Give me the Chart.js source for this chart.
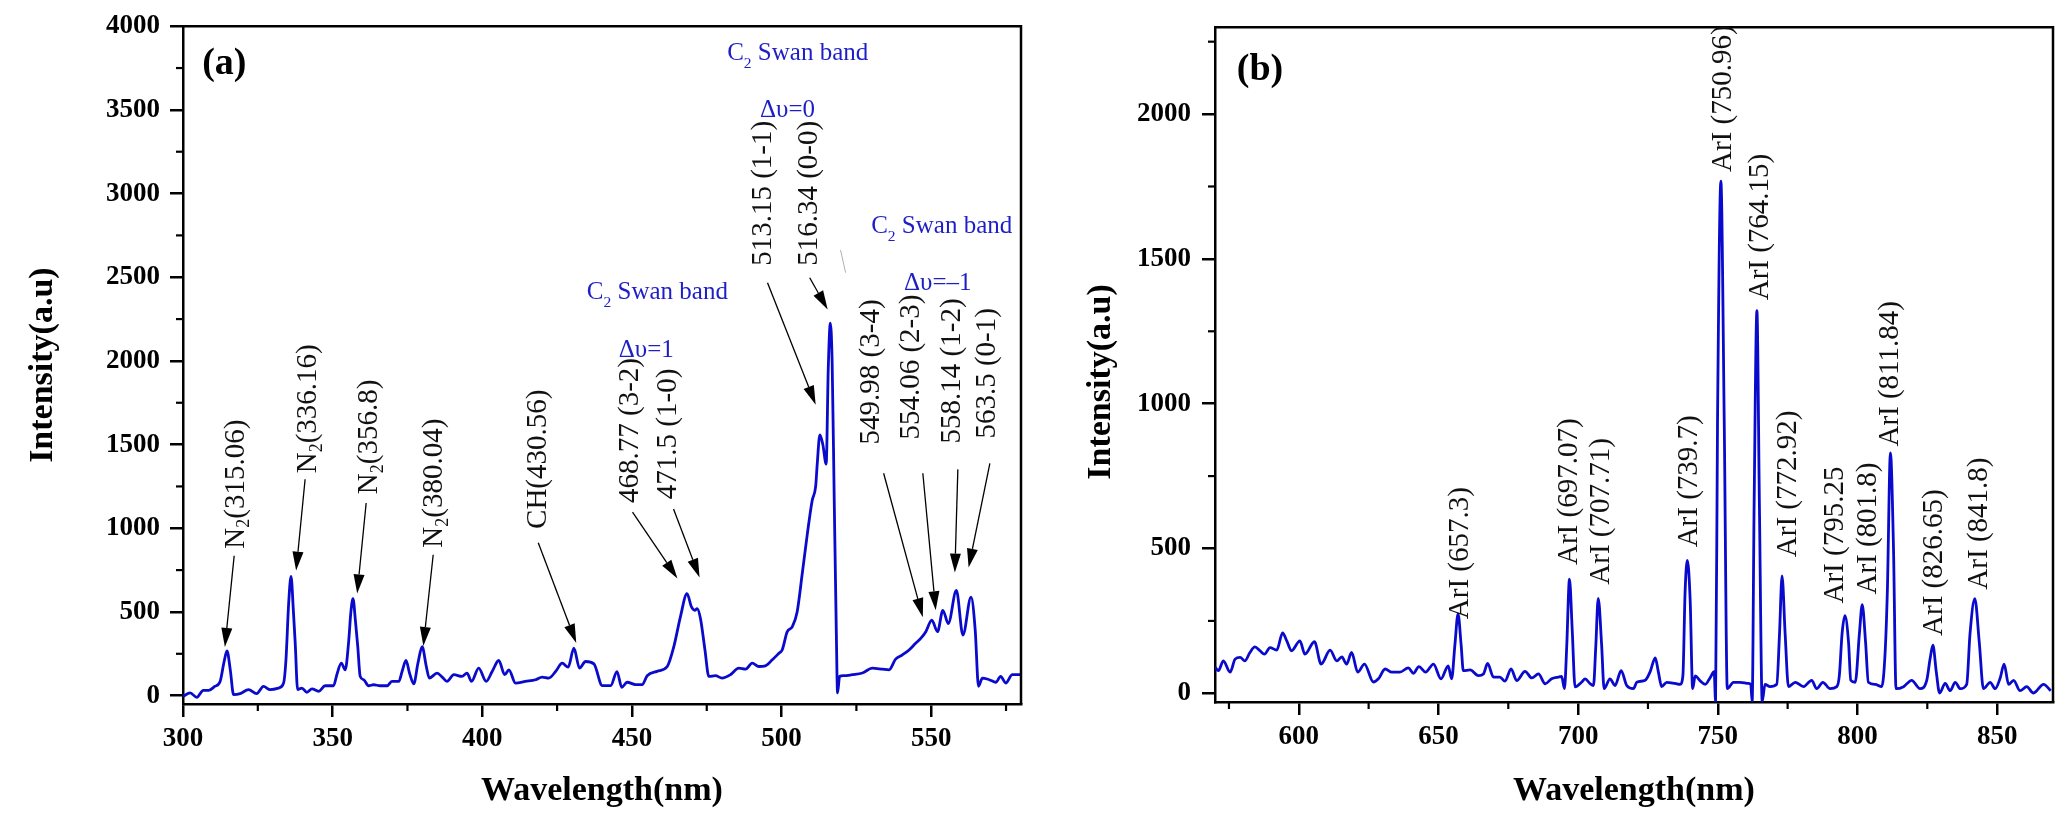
<!DOCTYPE html>
<html><head><meta charset="utf-8">
<script src="https://cdn.jsdelivr.net/npm/chart.js@4"></script>
<style>
html,body{margin:0;padding:0;background:#fff;width:2072px;height:832px;overflow:hidden}
#ca{position:absolute;left:0;top:0}
#cb{position:absolute;left:1040px;top:0}
</style></head><body>
<canvas id="ca" width="1040" height="832"></canvas>
<canvas id="cb" width="1032" height="832"></canvas>
<script>
// ---------- DATA (panel a) ----------
const wavelengthA = [300,302.4,304.6,306.8,308.6,310.6,312.4,313.7,314.7,315.8,316.9,319.1,321.9,324.6,326.9,329.1,331.9,333.6,334.4,335.3,336.1,336.9,337.5,338.3,339.7,341.4,343.1,345.3,347.5,350.3,351.4,352.9,354.2,355.3,356.1,356.8,357.6,358.4,359.2,360.4,362,363.7,365.9,368.2,369.8,372.1,373.2,374.5,375.7,377.1,378.5,379.9,381.3,382.3,384.9,386.6,388.2,390.5,393.2,394.9,396.4,398.8,401.3,403.3,405.5,407.5,408.9,411.1,414.4,417.8,420,422.2,424.5,426.7,428.7,430.6,432.5,434.5,437.3,440.1,442.9,445,446.6,448.4,451.2,453.4,455.1,458.4,461.8,464,466.2,468.4,469.9,471,471.8,472.9,474.4,475.7,477.9,480.1,482.9,485.7,488,490.2,492.4,494.6,496.9,499.1,500.2,501.9,503.6,505.2,506.9,508.6,510.2,511.4,511.9,512.8,513.8,514.9,515.6,516.3,516.9,517.6,518.3,518.7,519.4,520.8,523.6,527,530.3,533.7,535.9,538.1,540.4,542.6,544.8,546.5,548.2,550.2,552.1,553.9,555.7,558.4,560.6,563.3,564.7,565.8,567.1,569.4,571.6,573.2,574.9,577.1,580];
const intensityA = [-4,16,-10,32,32,55,85,200,267,154,6,12,36,12,55,36,45,75,213,550,712,500,312,36,45,20,40,26,59,59,125,194,154,312,500,579,450,292,115,95,59,65,59,59,85,85,144,210,134,71,194,292,174,105,134,111,85,125,115,134,85,164,85,144,210,125,154,75,85,95,111,105,144,194,170,283,164,204,190,60,60,144,50,80,66,66,119,145,174,293,471,609,530,510,520,461,273,115,119,105,125,164,158,194,174,178,214,253,273,382,412,500,728,965,1163,1252,1380,1558,1499,1384,1954,2226,1993,1163,372,16,115,119,125,135,164,158,154,218,244,273,313,342,382,451,382,510,431,629,362,589,392,56,105,95,80,115,75,125,125];

// ---------- DATA (panel b) ----------
const wavelengthB = [570,571.2,573,575.4,577.2,579,580.7,582.5,584.3,586.1,587.7,589.7,592.1,594.2,595.7,597.4,600.4,602.2,605.6,608,611.2,613.6,615.4,617.1,618.9,621.1,623.5,626.7,628.5,630.9,633.3,636.2,639.2,641,643,645.4,648.2,650.9,653.5,654.7,655.9,657,658.1,658.9,661.3,664.3,666.1,667.6,669.7,672,673.8,676,678,681,683.4,685.8,688.2,690.5,692.9,694.1,695.1,695.9,696.9,697.9,698.9,701.3,702.5,704.3,705.5,706.3,707.2,708.4,709.3,711.4,713.2,715.4,717.4,719.8,721,724,725.8,727.6,728.7,729.9,731.7,734.7,736.5,737.5,738.3,739.1,740.1,741,741.9,743.7,745.5,747.2,748.7,749.2,749.9,751.1,752.3,753.4,755.6,758,761,761.8,762.3,763,764,764.9,765.9,766.9,768.7,771.1,772.1,773,774.1,775.3,777.7,780.7,783.6,785.4,787.6,790.2,792.6,793.5,794.5,795.5,796.8,797.6,799.2,800.7,801.7,802.9,803.9,806.3,808.7,809.9,810.7,811.8,812.9,813.8,816.5,819.4,822.4,824.8,826,827,828.2,829.4,831.4,833.2,835,836.8,839.1,840.3,842,843.6,845.1,847.5,849.3,851.1,852.5,854.1,855.9,858.2,860.6,863,866.6,869.2];
const intensityB = [90,78,112,73,118,124,112,141,160,147,135,158,149,209,181,147,181,135,178,101,149,112,126,101,141,73,101,39,50,84,73,73,88,69,92,73,101,50,95,50,169,274,169,78,81,61,67,103,56,56,42,84,44,76,53,67,33,50,56,58,16,158,394,215,22,39,50,33,27,158,328,169,16,50,27,78,27,16,38,45,75,122,75,23,38,34,31,60,353,459,324,16,60,43,31,53,75,-28,940,1768,940,16,38,38,34,31,-28,647,1321,647,-28,31,23,31,207,405,207,23,38,23,45,16,38,16,23,60,207,268,177,45,38,207,306,177,38,31,23,141,353,830,500,16,23,45,16,45,119,166,75,1,34,9,38,16,31,207,327,177,16,38,16,53,101,31,45,9,23,1,31,9];

// ---------- TICKS ----------
const xTicksA = [300,350,400,450,500,550];
const yTicksA = [0,500,1000,1500,2000,2500,3000,3500,4000];
const xTicksB = [600,650,700,750,800,850];
const yTicksB = [0,500,1000,1500,2000];

// ---------- LABEL TEXTS ----------
const peakLabelsA = ['N_2(315.06)','N_2(336.16)','N_2(356.8)','N_2(380.04)','CH(430.56)','468.77 (3-2)','471.5 (1-0)','513.15 (1-1)','516.34 (0-0)','549.98 (3-4)','554.06 (2-3)','558.14 (1-2)','563.5 (0-1)'];
const bandLabelsA = ['C_2 Swan band','\u0394\u03C5=0','C_2 Swan band','\u0394\u03C5=\u20131','C_2 Swan band','\u0394\u03C5=1'];
const peakLabelsB = ['ArI (657.3)','ArI (697.07)','ArI (707.71)','ArI (739.7)','ArI (750.96)','ArI (764.15)','ArI (772.92)','ArI (795.25','ArI (801.8)','ArI (811.84)','ArI (826.65)','ArI (841.8)'];

// ---------- ANNOTATION PLACEMENT (data units) ----------
const peakPosA = [
  [317.7,878,[317.1,836,314.0,291]],
  [341.8,1329,[340.8,1293,337.8,747]],
  [362.2,1204,[361.2,1151,358.2,611]],
  [384.1,884,[383.6,842,380.3,297]],
  [418.7,996,[418.7,913,431.4,314]],
  [449.5,1151,[450.2,1097,465.2,700]],
  [462.2,1174,[463.9,1115,472.6,706]],
  [494.0,2568,[495.3,2467,511.4,1738]],
  [509.4,2568,[509.4,2497,515.4,2307]],
  [530.1,1501,[534.1,1329,547.2,469]],
  [543.5,1530,[547.2,1329,551.5,510]],
  [557.2,1507,[558.9,1352,557.9,735]],
  [568.9,1536,[569.6,1388,562.5,765]]
];
const bandPosA = [[505.4,3796],[502.0,3458],[553.5,2764],[552.2,2426],[458.5,2367],[454.8,2023]];
const peakPosB = [[657.7,256],[696.7,443],[708.2,375],[739.7,504],[751.9,1800],[765.1,1357],[775.2,470],[792.0,310],[803.8,341],[811.7,852],[827.4,198],[843.5,358]];

const SERIF = '"Liberation Serif", "Times New Roman", serif';
const LINE_BLUE = '#0a0acc';
const TEXT_BLUE = '#1e1ec8';

function parts(str){
  const out=[]; const re=/_(\w)/g; let last=0,m;
  while((m=re.exec(str))){ if(m.index>last) out.push({t:str.slice(last,m.index)}); out.push({t:m[1],sub:true}); last=re.lastIndex; }
  if(last<str.length) out.push({t:str.slice(last)});
  return out;
}
function measureParts(ctx, ps, size){
  let w=0;
  for(const p of ps){ ctx.font = `${p.sub?size*0.62:size}px ${SERIF}`; w+=ctx.measureText(p.t).width; }
  return w;
}
function drawParts(ctx, ps, x, y, size){
  for(const p of ps){
    const fs = p.sub?size*0.62:size;
    ctx.font = `${fs}px ${SERIF}`;
    ctx.fillText(p.t, x, y + (p.sub?size*0.3:0));
    x += ctx.measureText(p.t).width;
  }
}
function arrow(ctx,x1,y1,x2,y2){
  ctx.beginPath(); ctx.moveTo(x1,y1);
  const a=Math.atan2(y2-y1,x2-x1), L=19, H=5.5;
  const bx=x2-L*Math.cos(a), by=y2-L*Math.sin(a);
  ctx.lineTo(bx,by); ctx.stroke();
  ctx.beginPath(); ctx.moveTo(x2,y2);
  ctx.lineTo(bx+H*Math.sin(a), by-H*Math.cos(a));
  ctx.lineTo(bx-H*Math.sin(a), by+H*Math.cos(a));
  ctx.closePath(); ctx.fill();
}

function minors(majors, min, max){
  const step = majors[1]-majors[0]; const out=[];
  for(let v=majors[0]-step/2; v<=max; v+=step){ if(v>=min && v<=max) out.push(v); }
  return out;
}

const decorPlugin = {
  id:'decor',
  afterDatasetsDraw(chart){
    const o = chart.options.plugins.decor;
    const {ctx, chartArea:{left,right,top,bottom}, scales:{x,y}} = chart;
    ctx.save();
    // frame
    ctx.strokeStyle='#000'; ctx.lineWidth=2.5;
    ctx.beginPath(); ctx.moveTo(left-1,top); ctx.lineTo(right,top); ctx.lineTo(right,bottom); ctx.stroke();
    // minor ticks
    ctx.lineWidth=2.2;
    for(const v of minors(o.xMajor, x.min, x.max)){ const p=x.getPixelForValue(v); ctx.beginPath(); ctx.moveTo(p,bottom); ctx.lineTo(p,bottom+7); ctx.stroke(); }
    for(const v of minors(o.yMajor, y.min, y.max)){ const p=y.getPixelForValue(v); ctx.beginPath(); ctx.moveTo(left,p); ctx.lineTo(left-7,p); ctx.stroke(); }
    // custom y title (when offset from axis centre)
    if(o.yTitle){
      ctx.save(); ctx.translate(o.yTitle.x, o.yTitle.y); ctx.rotate(-Math.PI/2);
      ctx.fillStyle='#000'; ctx.font=`bold 34px ${SERIF}`; ctx.textAlign='center'; ctx.textBaseline='middle';
      ctx.fillText(o.yTitle.text, 0, 0); ctx.restore();
    }
    // panel tag
    ctx.fillStyle='#000'; ctx.font=`bold 38px ${SERIF}`; ctx.textBaseline='alphabetic'; ctx.textAlign='left';
    ctx.fillText(o.tag, x.getPixelForValue(o.tagPos[0]), y.getPixelForValue(o.tagPos[1]));
    // rotated peak labels
    ctx.textBaseline='middle';
    o.peaks.forEach((txt,i)=>{
      const [lx,ly,arr] = o.peakPos[i];
      ctx.save(); ctx.translate(x.getPixelForValue(lx), y.getPixelForValue(ly)); ctx.rotate(-Math.PI/2);
      ctx.fillStyle='#111'; drawParts(ctx, parts(txt), 0, 0, 29); ctx.restore();
      if(arr){ ctx.strokeStyle='#000'; ctx.fillStyle='#000'; ctx.lineWidth=1.3;
        arrow(ctx, x.getPixelForValue(arr[0]), y.getPixelForValue(arr[1]), x.getPixelForValue(arr[2]), y.getPixelForValue(arr[3])); }
    });
    // band labels (blue)
    if(o.bands){
      ctx.textBaseline='alphabetic'; ctx.fillStyle=TEXT_BLUE;
      o.bands.forEach((txt,i)=>{
        const ps=parts(txt); const w=measureParts(ctx,ps,25);
        drawParts(ctx, ps, x.getPixelForValue(o.bandPos[i][0])-w/2, y.getPixelForValue(o.bandPos[i][1]), 25);
      });
    }
    if(o.mark){
      ctx.strokeStyle='#b0b0b0'; ctx.lineWidth=1;
      ctx.beginPath(); ctx.moveTo(x.getPixelForValue(o.mark[0]),y.getPixelForValue(o.mark[1])); ctx.lineTo(x.getPixelForValue(o.mark[2]),y.getPixelForValue(o.mark[3])); ctx.stroke();
    }
    ctx.restore();
  }
};

function makeChart(id, xs, ys, cfg){
  const tickFont = {family:SERIF, size:27, weight:'bold'};
  const titleFont = {family:SERIF, size:34, weight:'bold'};
  const gridOpts = {display:true, drawOnChartArea:false, drawTicks:true, tickLength:13, tickWidth:2.5, lineWidth:2.5, color:'#000', tickColor:'#000'};
  return new Chart(document.getElementById(id), {
    type:'scatter',
    data:{datasets:[{data: xs.map((v,i)=>({x:v, y:ys[i]})), showLine:true, borderColor:LINE_BLUE, borderWidth:2.8, pointRadius:0, cubicInterpolationMode:'monotone', fill:false}]},
    options:{
      responsive:false, animation:false, devicePixelRatio:1,
      layout:{padding:{left:0, top:cfg.top, right:19, bottom:0}},
      plugins:{legend:{display:false}, tooltip:{enabled:false}, decor:cfg.decor},
      scales:{
        x:{type:'linear', min:cfg.xMin, max:cfg.xMax,
          afterBuildTicks:s=>{s.ticks = cfg.xTicks.map(v=>({value:v}));},
          afterFit:s=>{s.height = cfg.xHeight;},
          ticks:{font:tickFont, color:'#000', padding:6, maxRotation:0, autoSkip:false, callback:v=>String(v)},
          grid:gridOpts, border:{display:true, color:'#000', width:2.5},
          title:{display:true, text:'Wavelength(nm)', font:titleFont, color:'#000', padding:{top:0,bottom:20}}
        },
        y:{type:'linear', min:cfg.yMin, max:cfg.yMax,
          afterBuildTicks:s=>{s.ticks = cfg.yTicks.map(v=>({value:v}));},
          afterFit:s=>{s.width = cfg.yWidth;},
          ticks:{font:tickFont, color:'#000', padding:cfg.yPad, autoSkip:false, callback:v=>String(v)},
          grid:gridOpts, border:{display:true, color:'#000', width:2.5},
          title:{display:cfg.yTitleBuiltin, text:'Intensity(a.u)', font:titleFont, color:'#000', padding:{top:cfg.yTitlePad,bottom:0}}
        }
      }
    },
    plugins:[decorPlugin]
  });
}

makeChart('ca', wavelengthA, intensityA, {
  top:22, xMin:300, xMax:580, yMin:-50, yMax:4000, xTicks:xTicksA, yTicks:yTicksA,
  xHeight:128, yWidth:183, yPad:10, yTitlePad:23, yTitleBuiltin:true,
  decor:{xMajor:xTicksA, yMajor:yTicksA, tag:'(a)', tagPos:[306.4,3713], peaks:peakLabelsA, peakPos:peakPosA, bands:bandLabelsA, bandPos:bandPosA, mark:[519.7,2663,521.4,2527]}
});
makeChart('cb', wavelengthB, intensityB, {
  top:19, xMin:570, xMax:870, yMin:-30, yMax:2300, xTicks:xTicksB, yTicks:yTicksB,
  xHeight:130, yWidth:175, yPad:11, yTitlePad:41, yTitleBuiltin:false,
  decor:{xMajor:xTicksB, yMajor:yTicksB, tag:'(b)', tagPos:[577.8,2117], peaks:peakLabelsB, peakPos:peakPosB.map(p=>[p[0],p[1],null]),
         yTitle:{text:'Intensity(a.u)', x:61.5, y:382}}
});
</script>
</body></html>
